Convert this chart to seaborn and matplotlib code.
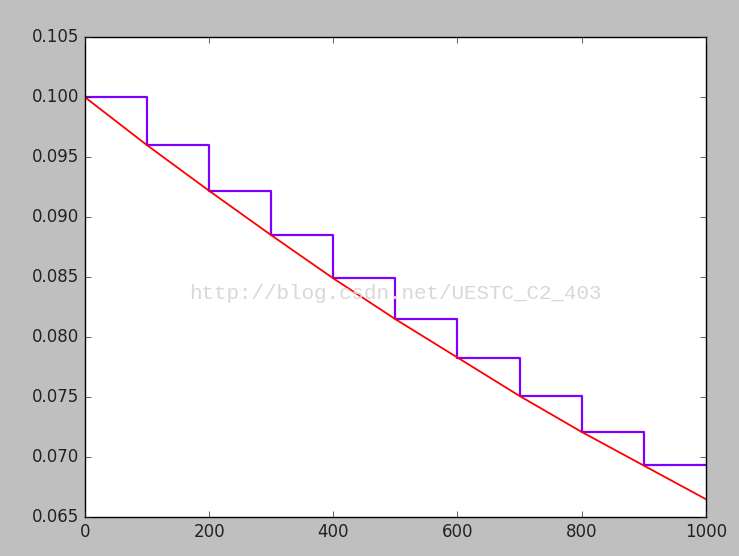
# learning rate decay: staircase vs continuous

import matplotlib
matplotlib.use('Agg')
import matplotlib.pyplot as plt
import seaborn as sns
import numpy as np
import pandas as pd


# DATA ------------

steps = [0, 100, 200, 300, 400, 500, 600, 700, 800, 900, 1000]
lr_staircase = [0.1000, 0.0960, 0.0922, 0.0885, 0.0849, 0.0815,
                0.0783, 0.0751, 0.0721, 0.0693, 0.0693]
lr_continuous = [0.1000, 0.0960, 0.0922, 0.0885, 0.0849, 0.0815,
                 0.0783, 0.0751, 0.0721, 0.0693, 0.0665]
x_ticks = [0, 200, 400, 600, 800, 1000]
y_ticks = [0.065, 0.070, 0.075, 0.080, 0.085, 0.090, 0.095, 0.100, 0.105]


# PLOT ------------

plt.style.use('classic')
df = pd.DataFrame({'step': steps, 'stair': lr_staircase, 'cont': lr_continuous})

fig = plt.figure(figsize=(7.39, 5.56), dpi=100, facecolor='#bfbfbf')
ax = fig.add_axes([0.115, 0.070, 0.840, 0.863])
ax.set_facecolor('white')

sns.lineplot(data=df, x='step', y='stair', ax=ax, color='#7f00ff',
             linewidth=1.6, drawstyle='steps-post', sort=False)
sns.lineplot(data=df, x='step', y='cont', ax=ax, color='#ff0000',
             linewidth=1.3, sort=False)

ax.set_xlim(0, 1000)
ax.set_ylim(0.065, 0.105)
ax.set_xticks(x_ticks)
ax.set_yticks(y_ticks)
ax.set_yticklabels([f'{v:.3f}' for v in y_ticks])
ax.set_xlabel('')
ax.set_ylabel('')
ax.tick_params(labelsize=12, colors='#222222')

# watermark
fig.text(0.535, 0.473, 'http://blog.csdn.net/UESTC_C2_403', family='Liberation Mono',
         fontsize=15, color='#d8d8d8', ha='center', va='center')

fig.savefig('out.png', dpi=100, facecolor=fig.get_facecolor())
